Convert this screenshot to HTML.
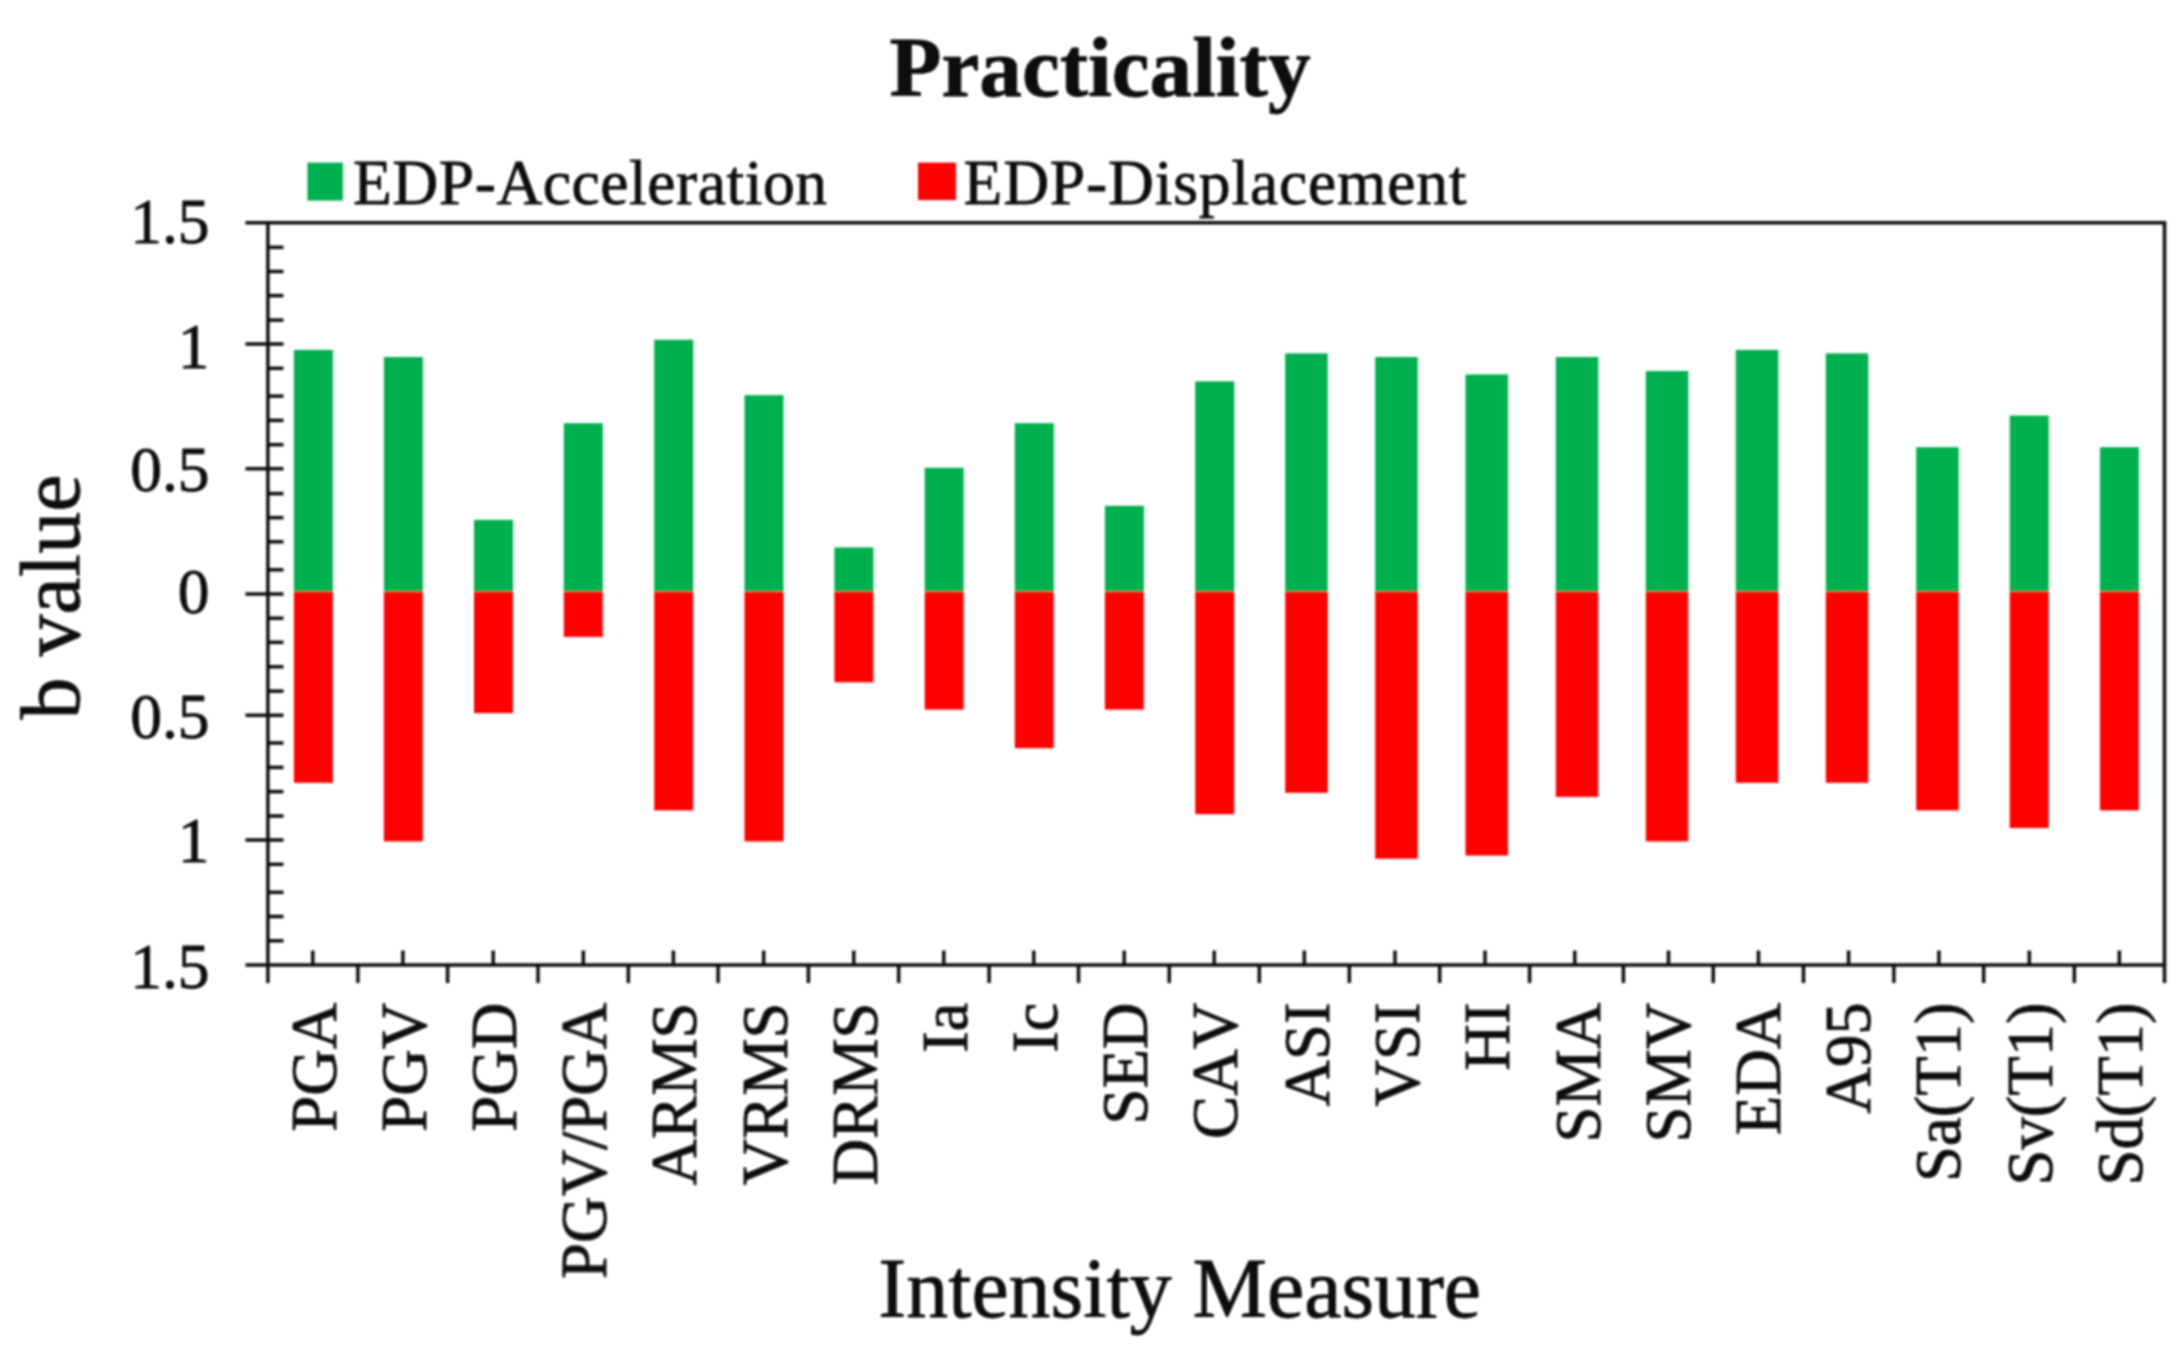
<!DOCTYPE html>
<html lang="en"><head><meta charset="utf-8"><title>Practicality</title>
<style>html,body{margin:0;padding:0;background:#fff;}body{width:2184px;height:1368px;overflow:hidden;}svg{display:block;}text{font-kerning:none;font-variant-ligatures:none;font-family:"Liberation Serif","Times New Roman",serif;fill:#0a0a0a;stroke:#0a0a0a;stroke-width:0.8px;stroke-linejoin:round;}</style></head><body>
<svg width="2184" height="1368" viewBox="0 0 2184 1368">
<defs><filter id="soft" x="0" y="0" width="2184" height="1368" filterUnits="userSpaceOnUse"><feGaussianBlur stdDeviation="0.9"/></filter></defs>
<rect width="2184" height="1368" fill="#fff"/>
<g filter="url(#soft)">
<g shape-rendering="geometricPrecision">
<rect x="293.9" y="349.9" width="39.0" height="242.6" fill="#00b050"/>
<rect x="293.9" y="591.5" width="39.0" height="191.3" fill="#ff0000"/>
<rect x="383.9" y="357.0" width="39.0" height="235.5" fill="#00b050"/>
<rect x="383.9" y="591.5" width="39.0" height="249.9" fill="#ff0000"/>
<rect x="474.0" y="519.9" width="39.0" height="72.6" fill="#00b050"/>
<rect x="474.0" y="591.5" width="39.0" height="121.6" fill="#ff0000"/>
<rect x="563.8" y="423.2" width="39.0" height="169.3" fill="#00b050"/>
<rect x="563.8" y="591.5" width="39.0" height="45.4" fill="#ff0000"/>
<rect x="654.2" y="339.7" width="39.0" height="252.8" fill="#00b050"/>
<rect x="654.2" y="591.5" width="39.0" height="218.9" fill="#ff0000"/>
<rect x="744.5" y="395.1" width="39.0" height="197.4" fill="#00b050"/>
<rect x="744.5" y="591.5" width="39.0" height="249.9" fill="#ff0000"/>
<rect x="834.4" y="547.4" width="39.0" height="45.1" fill="#00b050"/>
<rect x="834.4" y="591.5" width="39.0" height="90.8" fill="#ff0000"/>
<rect x="924.7" y="467.7" width="39.0" height="124.8" fill="#00b050"/>
<rect x="924.7" y="591.5" width="39.0" height="118.1" fill="#ff0000"/>
<rect x="1014.8" y="423.2" width="39.0" height="169.3" fill="#00b050"/>
<rect x="1014.8" y="591.5" width="39.0" height="156.7" fill="#ff0000"/>
<rect x="1104.9" y="505.8" width="39.0" height="86.7" fill="#00b050"/>
<rect x="1104.9" y="591.5" width="39.0" height="118.1" fill="#ff0000"/>
<rect x="1195.2" y="381.3" width="39.0" height="211.2" fill="#00b050"/>
<rect x="1195.2" y="591.5" width="39.0" height="222.7" fill="#ff0000"/>
<rect x="1285.2" y="353.4" width="42.5" height="239.1" fill="#00b050"/>
<rect x="1285.2" y="591.5" width="42.5" height="201.3" fill="#ff0000"/>
<rect x="1375.2" y="357.0" width="42.5" height="235.5" fill="#00b050"/>
<rect x="1375.2" y="591.5" width="42.5" height="267.2" fill="#ff0000"/>
<rect x="1465.5" y="374.5" width="42.5" height="218.0" fill="#00b050"/>
<rect x="1465.5" y="591.5" width="42.5" height="264.0" fill="#ff0000"/>
<rect x="1555.8" y="357.0" width="42.5" height="235.5" fill="#00b050"/>
<rect x="1555.8" y="591.5" width="42.5" height="205.4" fill="#ff0000"/>
<rect x="1645.8" y="371.0" width="42.5" height="221.5" fill="#00b050"/>
<rect x="1645.8" y="591.5" width="42.5" height="249.9" fill="#ff0000"/>
<rect x="1735.8" y="349.9" width="42.5" height="242.6" fill="#00b050"/>
<rect x="1735.8" y="591.5" width="42.5" height="191.3" fill="#ff0000"/>
<rect x="1825.8" y="353.4" width="42.5" height="239.1" fill="#00b050"/>
<rect x="1825.8" y="591.5" width="42.5" height="191.3" fill="#ff0000"/>
<rect x="1916.2" y="447.2" width="42.5" height="145.3" fill="#00b050"/>
<rect x="1916.2" y="591.5" width="42.5" height="218.9" fill="#ff0000"/>
<rect x="2009.7" y="415.6" width="39.0" height="176.9" fill="#00b050"/>
<rect x="2009.7" y="591.5" width="39.0" height="236.5" fill="#ff0000"/>
<rect x="2099.9" y="447.2" width="39.0" height="145.3" fill="#00b050"/>
<rect x="2099.9" y="591.5" width="39.0" height="218.9" fill="#ff0000"/>
</g>
<g stroke="#111" stroke-width="3.5" fill="none">
<line x1="245.5" y1="222.7" x2="2166.2" y2="222.7"/>
<line x1="245.5" y1="965" x2="2166.2" y2="965"/>
<line x1="267.9" y1="222.7" x2="267.9" y2="983"/>
<line x1="2164.5" y1="222.7" x2="2164.5" y2="983"/>
<line x1="267.9" y1="247.3" x2="283.5" y2="247.3"/>
<line x1="267.9" y1="271.5" x2="283.5" y2="271.5"/>
<line x1="267.9" y1="295.6" x2="283.5" y2="295.6"/>
<line x1="267.9" y1="320.1" x2="283.5" y2="320.1"/>
<line x1="245.5" y1="344" x2="283.5" y2="344"/>
<line x1="267.9" y1="368.3" x2="283.5" y2="368.3"/>
<line x1="267.9" y1="396.1" x2="283.5" y2="396.1"/>
<line x1="267.9" y1="420.4" x2="283.5" y2="420.4"/>
<line x1="267.9" y1="444.7" x2="283.5" y2="444.7"/>
<line x1="245.5" y1="468.7" x2="283.5" y2="468.7"/>
<line x1="267.9" y1="493.6" x2="283.5" y2="493.6"/>
<line x1="267.9" y1="517.7" x2="283.5" y2="517.7"/>
<line x1="267.9" y1="541.8" x2="283.5" y2="541.8"/>
<line x1="267.9" y1="569.8" x2="283.5" y2="569.8"/>
<line x1="245.5" y1="593.9" x2="283.5" y2="593.9"/>
<line x1="267.9" y1="618.2" x2="283.5" y2="618.2"/>
<line x1="267.9" y1="642.3" x2="283.5" y2="642.3"/>
<line x1="267.9" y1="666.8" x2="283.5" y2="666.8"/>
<line x1="267.9" y1="691.1" x2="283.5" y2="691.1"/>
<line x1="245.5" y1="715.3" x2="283.5" y2="715.3"/>
<line x1="267.9" y1="743.0" x2="283.5" y2="743.0"/>
<line x1="267.9" y1="767.4" x2="283.5" y2="767.4"/>
<line x1="267.9" y1="791.6" x2="283.5" y2="791.6"/>
<line x1="267.9" y1="816" x2="283.5" y2="816"/>
<line x1="245.5" y1="840.1" x2="283.5" y2="840.1"/>
<line x1="267.9" y1="864.3" x2="283.5" y2="864.3"/>
<line x1="267.9" y1="892.3" x2="283.5" y2="892.3"/>
<line x1="267.9" y1="916.5" x2="283.5" y2="916.5"/>
<line x1="267.9" y1="940.8" x2="283.5" y2="940.8"/>
<line x1="312.8" y1="950.5" x2="312.8" y2="965"/>
<line x1="402.9" y1="950.5" x2="402.9" y2="965"/>
<line x1="493.2" y1="950.5" x2="493.2" y2="965"/>
<line x1="583.3" y1="950.5" x2="583.3" y2="965"/>
<line x1="673.4" y1="950.5" x2="673.4" y2="965"/>
<line x1="763.7" y1="950.5" x2="763.7" y2="965"/>
<line x1="853.8" y1="950.5" x2="853.8" y2="965"/>
<line x1="943.8" y1="950.5" x2="943.8" y2="965"/>
<line x1="1033.8" y1="950.5" x2="1033.8" y2="965"/>
<line x1="1124.2" y1="950.5" x2="1124.2" y2="965"/>
<line x1="1214.2" y1="950.5" x2="1214.2" y2="965"/>
<line x1="1304.3" y1="950.5" x2="1304.3" y2="965"/>
<line x1="1395" y1="950.5" x2="1395" y2="965"/>
<line x1="1485" y1="950.5" x2="1485" y2="965"/>
<line x1="1574.8" y1="950.5" x2="1574.8" y2="965"/>
<line x1="1668.5" y1="950.5" x2="1668.5" y2="965"/>
<line x1="1758.5" y1="950.5" x2="1758.5" y2="965"/>
<line x1="1848.6" y1="950.5" x2="1848.6" y2="965"/>
<line x1="1938.9" y1="950.5" x2="1938.9" y2="965"/>
<line x1="2029.3" y1="950.5" x2="2029.3" y2="965"/>
<line x1="2119.3" y1="950.5" x2="2119.3" y2="965"/>
<line x1="357.9" y1="965" x2="357.9" y2="983"/>
<line x1="447.6" y1="965" x2="447.6" y2="983"/>
<line x1="538" y1="965" x2="538" y2="983"/>
<line x1="628.3" y1="965" x2="628.3" y2="983"/>
<line x1="718.1" y1="965" x2="718.1" y2="983"/>
<line x1="808.4" y1="965" x2="808.4" y2="983"/>
<line x1="898.7" y1="965" x2="898.7" y2="983"/>
<line x1="989.1" y1="965" x2="989.1" y2="983"/>
<line x1="1078.5" y1="965" x2="1078.5" y2="983"/>
<line x1="1169.2" y1="965" x2="1169.2" y2="983"/>
<line x1="1259.3" y1="965" x2="1259.3" y2="983"/>
<line x1="1349.3" y1="965" x2="1349.3" y2="983"/>
<line x1="1439.7" y1="965" x2="1439.7" y2="983"/>
<line x1="1529.6" y1="965" x2="1529.6" y2="983"/>
<line x1="1623.4" y1="965" x2="1623.4" y2="983"/>
<line x1="1713.2" y1="965" x2="1713.2" y2="983"/>
<line x1="1803.5" y1="965" x2="1803.5" y2="983"/>
<line x1="1893.9" y1="965" x2="1893.9" y2="983"/>
<line x1="1983.7" y1="965" x2="1983.7" y2="983"/>
<line x1="2074.3" y1="965" x2="2074.3" y2="983"/>
</g>
<text x="1100" y="95.8" font-size="85.2" font-weight="bold" text-anchor="middle">Practicality</text>
<rect x="307.4" y="162.6" width="35.5" height="38" fill="#00b050"/>
<text x="353" y="204" font-size="63.5" textLength="474" lengthAdjust="spacing">EDP-Acceleration</text>
<rect x="918" y="162.6" width="38" height="37.5" fill="#ff0000"/>
<text x="963.5" y="204" font-size="63.5" textLength="503" lengthAdjust="spacing">EDP-Displacement</text>
<text x="209.5" y="242.6" font-size="63.5" text-anchor="end">1.5</text>
<text x="209.5" y="367.6" font-size="63.5" text-anchor="end">1</text>
<text x="209.5" y="491" font-size="63.5" text-anchor="end">0.5</text>
<text x="209.5" y="612.7" font-size="63.5" text-anchor="end">0</text>
<text x="209.5" y="737.6" font-size="63.5" text-anchor="end">0.5</text>
<text x="209.5" y="862" font-size="63.5" text-anchor="end">1</text>
<text x="209.5" y="987.6" font-size="63.5" text-anchor="end">1.5</text>
<text transform="translate(79,597) rotate(-90)" font-size="84" text-anchor="middle">b value</text>
<text x="1179.7" y="1316.8" font-size="83.8" text-anchor="middle">Intensity Measure</text>
<text transform="translate(336.0,1002.5) rotate(-90)" font-size="64.6" text-anchor="end">PGA</text>
<text transform="translate(426.0,1002.5) rotate(-90)" font-size="64.6" text-anchor="end">PGV</text>
<text transform="translate(516.1,1002.5) rotate(-90)" font-size="64.6" text-anchor="end">PGD</text>
<text transform="translate(605.9,1002.5) rotate(-90)" font-size="64.6" text-anchor="end">PGV/PGA</text>
<text transform="translate(696.3,1002.5) rotate(-90)" font-size="64.6" text-anchor="end">ARMS</text>
<text transform="translate(786.6,1002.5) rotate(-90)" font-size="64.6" text-anchor="end">VRMS</text>
<text transform="translate(876.5,1002.5) rotate(-90)" font-size="64.6" text-anchor="end">DRMS</text>
<text transform="translate(966.8,1002.5) rotate(-90)" font-size="64.6" text-anchor="end">Ia</text>
<text transform="translate(1056.9,1002.5) rotate(-90)" font-size="64.6" text-anchor="end">Ic</text>
<text transform="translate(1147.0,1002.5) rotate(-90)" font-size="64.6" text-anchor="end">SED</text>
<text transform="translate(1237.3,1002.5) rotate(-90)" font-size="64.6" text-anchor="end">CAV</text>
<text transform="translate(1329.1,1002.5) rotate(-90)" font-size="64.6" text-anchor="end">ASI</text>
<text transform="translate(1419.1,1002.5) rotate(-90)" font-size="64.6" text-anchor="end">VSI</text>
<text transform="translate(1509.4,1002.5) rotate(-90)" font-size="64.6" text-anchor="end">HI</text>
<text transform="translate(1599.6,1002.5) rotate(-90)" font-size="64.6" text-anchor="end">SMA</text>
<text transform="translate(1689.7,1002.5) rotate(-90)" font-size="64.6" text-anchor="end">SMV</text>
<text transform="translate(1779.7,1002.5) rotate(-90)" font-size="64.6" text-anchor="end">EDA</text>
<text transform="translate(1869.7,1002.5) rotate(-90)" font-size="64.6" text-anchor="end">A95</text>
<text transform="translate(1960.0,1002.5) rotate(-90)" font-size="64.6" text-anchor="end">Sa(T1)</text>
<text transform="translate(2051.8,1002.5) rotate(-90)" font-size="64.6" text-anchor="end">Sv(T1)</text>
<text transform="translate(2142.0,1002.5) rotate(-90)" font-size="64.6" text-anchor="end">Sd(T1)</text>
</g></svg></body></html>
